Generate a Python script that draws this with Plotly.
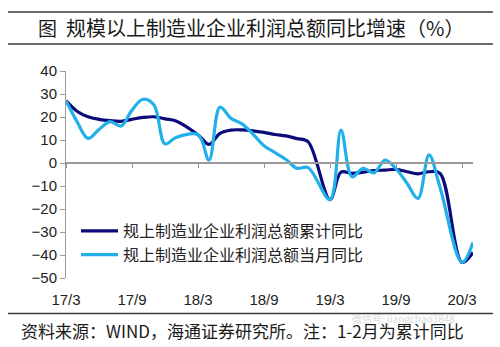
import plotly.graph_objects as go

# ---- data (month index 0 = first point; Jan months have no data) ----
months = list(range(38))
tick_pos = [0, 6, 12, 18, 24, 30, 36]
tick_labels = ["17/3", "17/9", "18/3", "18/9", "19/3", "19/9", "20/3"]

cumulative = [27.1, 22.5, 20.1, 19.0, 18.4, 18.1, 19.0, 19.8, 20.1, 19.2, 18.3, None,
              12.3, 8.1, 12.9, 14.3, 14.4, 14.0, 13.3, 12.4, 11.8, 10.6, 9.3, None,
              -15.9, -4.0, -4.5, -4.0, -3.3, -3.1, -2.8, -3.8, -4.7, -3.8, -4.5, None,
              -43.2, -38.9]
monthly = [27.1, 18.0, 10.7, 14.6, 18.0, 16.1, 23.0, 27.7, 25.2, 8.3, 11.1, None,
           12.3, 1.3, 24.3, 19.4, 17.0, 12.6, 7.5, 4.5, 1.5, -2.3, -2.0, None,
           -15.9, 14.3, -6.0, -2.3, -4.3, 1.3, -2.5, -8.8, -15.4, 3.5, -10.5, None,
           -43.2, -34.6]

name_cum = "规上制造业企业利润总额累计同比"
name_mon = "规上制造业企业利润总额当月同比"
title_text = "规模以上制造业企业利润总额同比增速（%）"
source_text = "资料来源：WIND，海通证券研究所。注：1-2月为累计同比"

DARK = "#0b0b7a"
LIGHT = "#22b0ea"
GRAY = "#9a9a9a"
CJK = "Noto Sans CJK SC"
LAT = "Liberation Sans, Arial, sans-serif"

# layout geometry (pixels)
W, H = 500, 347
L, R, T, B = 66, 27, 71, 69
PW, PH = W - L - R, H - T - B
def px(xp):
    return (xp - L) / PW
def py(yp):
    return (H - B - yp) / PH

fig = go.Figure()
fig.add_trace(go.Scatter(x=months, y=cumulative, mode="lines", name=name_cum,
                         line=dict(color=DARK, width=3.2, shape="spline", smoothing=1),
                         connectgaps=True, hoverinfo="skip"))
fig.add_trace(go.Scatter(x=months, y=monthly, mode="lines", name=name_mon,
                         line=dict(color=LIGHT, width=3.2, shape="spline", smoothing=1),
                         connectgaps=True, hoverinfo="skip"))
# helper trace for the zero-line axis
fig.add_trace(go.Scatter(x=[0], y=[0], xaxis="x2", mode="markers",
                         marker=dict(opacity=0), showlegend=False, hoverinfo="skip"))

fig.update_layout(
    width=W, height=H,
    margin=dict(l=L, r=R, t=T, b=B),
    paper_bgcolor="white", plot_bgcolor="white",
    showlegend=True,
    legend=dict(x=px(76), y=py(214), xanchor="left", yanchor="top",
                bgcolor="rgba(0,0,0,0)", font=dict(family=CJK, size=16, color="#222"),
                itemwidth=37, tracegroupgap=0),
    xaxis=dict(range=[0, 37], tickvals=tick_pos, ticktext=tick_labels,
               showline=False, showgrid=False, zeroline=False,
               ticks="outside", ticklen=8, tickcolor="rgba(0,0,0,0)",
               tickfont=dict(family=LAT, size=15, color="#222")),
    xaxis2=dict(range=[0, 37], overlaying="x", anchor="free", position=50 / 90,
                side="bottom", tickvals=tick_pos, showticklabels=False,
                ticks="outside", ticklen=4, tickcolor=GRAY, tickwidth=1,
                showline=True, linecolor=GRAY, linewidth=1.5,
                showgrid=False, zeroline=False),
    yaxis=dict(range=[-50, 40], dtick=10, tick0=0, showgrid=False, zeroline=False,
               showline=True, linecolor=GRAY, linewidth=1,
               ticks="outside", ticklen=5, tickcolor=GRAY,
               tickfont=dict(family=LAT, size=15, color="#222")),
)

# header / footer rules
for yp in (12, 44, 313.5):
    fig.add_shape(type="line", xref="paper", yref="paper",
                  x0=px(8), x1=px(493), y0=py(yp), y1=py(yp),
                  line=dict(color="#3a3a3a", width=1.5))

fig.add_annotation(text="图", xref="paper", yref="paper", x=px(36), y=py(28),
                   xanchor="left", yanchor="middle", showarrow=False,
                   font=dict(family=CJK, size=19, color="#1a1a1a"))
fig.add_annotation(text=title_text, xref="paper", yref="paper", x=px(64), y=py(28),
                   xanchor="left", yanchor="middle", showarrow=False,
                   font=dict(family=CJK, size=20, color="#1a1a1a"))
fig.add_annotation(text=source_text, xref="paper", yref="paper", x=px(19), y=py(330),
                   xanchor="left", yanchor="middle", showarrow=False,
                   font=dict(family=CJK, size=17, color="#1a1a1a"))
fig.add_annotation(text="微信号: jiangchao3848", xref="paper", yref="paper", x=px(350), y=py(318),
                   xanchor="left", yanchor="middle", showarrow=False, opacity=0.3,
                   font=dict(family=CJK, size=10, color="#888"))

fig.write_html("out.html")
